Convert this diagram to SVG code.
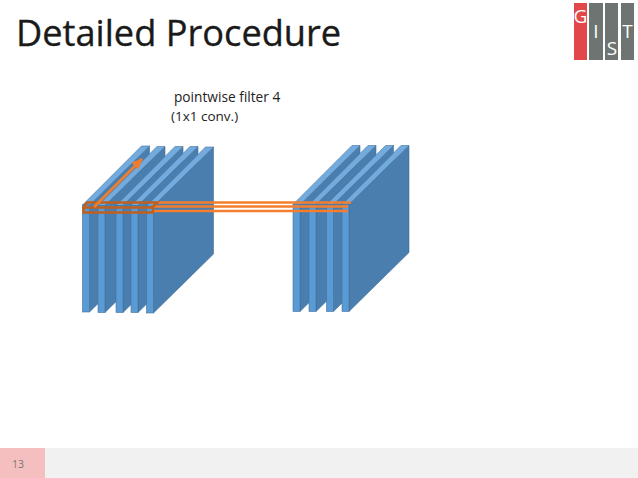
<svg xmlns="http://www.w3.org/2000/svg" width="638" height="478" viewBox="0 0 638 478">
<style>
text{font-family:"Open Sans","Noto Sans","Liberation Sans",sans-serif}
.front{fill:#5b9bd5;stroke:#41719c;stroke-width:.6}
.top{fill:#74abdf;stroke:#41719c;stroke-width:.6}
.side{fill:#497eae;stroke:#41719c;stroke-width:.6}
.or{stroke:#f47e2c;stroke-width:2.7;fill:none}
.box{stroke:#c0601c;stroke-width:2.5;fill:none}
.arrow{stroke:#ed7d31;stroke-width:3;fill:none}
.bar{fill:#6d7472}
.lg{fill:#fff;font-size:19px;text-anchor:middle}
</style>
<defs>
<g id="slab">
<path class="side" d="M7 0L67 -59V48L7 107Z"/>
<path class="top" d="M0 0L59 -59H67L7 0Z"/>
<rect class="front" x="0" y="0" width="7" height="107"/>
</g>
<marker id="ah" markerUnits="userSpaceOnUse" markerWidth="12" markerHeight="12" refX="10" refY="6" orient="auto"><path d="M0 1L11 6L0 11Z" fill="#ed7d31"/></marker>
</defs>
<rect width="638" height="478" fill="#fff"/>
<text x="16" y="46" font-size="36.2" fill="#1a1a1a" stroke="#1a1a1a" stroke-width=".35">Detailed Procedure</text>
<g id="logo">
<rect x="574" y="3" width="13" height="57" fill="#e2474a"/>
<rect class="bar" x="589" y="3" width="14" height="57"/>
<rect class="bar" x="605" y="3" width="13" height="57"/>
<rect class="bar" x="621" y="3" width="13" height="57"/>
<text class="lg" x="580.5" y="23">G</text>
<text class="lg" x="596" y="38">I</text>
<text class="lg" x="612" y="55">S</text>
<text class="lg" x="627.5" y="38">T</text>
</g>
<text x="174" y="102" font-size="13.7" fill="#222">pointwise filter 4</text>
<text x="171" y="121" font-size="13.5" fill="#222">(1x1 conv.)</text>
<g id="stack-left">
<use href="#slab" x="82.5" y="205"/>
<use href="#slab" x="98" y="205.5"/>
<use href="#slab" x="116" y="205.5"/>
<use href="#slab" x="131" y="205.5"/>
<use href="#slab" x="146.5" y="206"/>
</g>
<g id="stack-right">
<use href="#slab" x="293" y="204.5"/>
<use href="#slab" x="309" y="204.5"/>
<use href="#slab" x="326.5" y="204.5"/>
<use href="#slab" x="342" y="204.5"/>
</g>
<g id="connectors">
<path class="or" d="M157 202.5H351M153 206.5H348M153 211H348"/>
<path class="box" d="M83.5 207.5L87 202.5H157L153 206.5V212.5H83.5ZM83.5 207.5H153"/>
<path class="arrow" marker-end="url(#ah)" d="M94 207L142 159"/>
</g>
<g id="footer">
<rect x="0" y="448" width="45" height="30" fill="#f6bfbf"/>
<rect x="45" y="448" width="593" height="30" fill="#f1f1f1"/>
<text x="12" y="468" font-size="10.5" fill="#777">13</text>
</g>
</svg>
